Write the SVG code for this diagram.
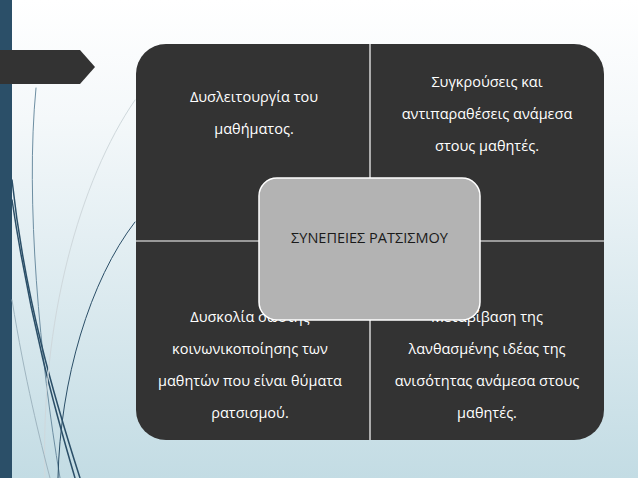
<svg xmlns="http://www.w3.org/2000/svg" width="638" height="478" viewBox="0 0 638 478">
<defs>
<linearGradient id="bg" x1="0" y1="0" x2="0" y2="1"><stop offset="0" stop-color="#ffffff"/><stop offset="0.25" stop-color="#f4f8fa"/><stop offset="1" stop-color="#c3dce4"/></linearGradient>
<style>
.q{fill:#333333;}
.t{font-family:"Open Sans","Noto Sans",sans-serif;font-size:14.5px;fill:#ffffff;text-anchor:middle;}
.c{fill:none;stroke-linecap:round;}
</style>
</defs>
<rect width="638" height="478" fill="url(#bg)"/>
<g id="decor">
<rect x="0" y="0" width="12" height="478" fill="#2b4f68"/>
<polygon points="0,50 80,50 95,67 80,84 0,84" fill="#333333"/>
<path class="c" d="M36,88 C25,200 40,360 60,478" stroke="#6d8ea2" stroke-width="1"/>
<path class="c" d="M12,180 C25,300 55,400 80,478" stroke="#2b4f68" stroke-width="1.5"/>
<path class="c" d="M12,200 C30,320 55,410 75,478" stroke="#2b4f68" stroke-width="1.5"/>
<path class="c" d="M135,222 C90,280 60,380 58,478" stroke="#2b4f68" stroke-width="1"/>
<path class="c" d="M135,100 C80,180 40,320 45,478" stroke="#cfd8dc" stroke-width="1"/>
<path class="c" d="M12,300 C25,380 40,440 50,478" stroke="#9fb5c0" stroke-width="1"/>
</g>
<g id="quadrants">
<g id="q1"><path class="q" d="M166,44 H370 V241 H136 V74 A30,30 0 0 1 166,44 Z"/>
<text class="t" x="254" y="102">Δυσλειτουργία του</text><text class="t" x="254" y="134">μαθήματος.</text></g>
<g id="q2"><path class="q" d="M370,44 H574 A30,30 0 0 1 604,74 V241 H370 Z"/>
<text class="t" x="487" y="87">Συγκρούσεις και</text><text class="t" x="487" y="119">αντιπαραθέσεις ανάμεσα</text><text class="t" x="487" y="151">στους μαθητές.</text></g>
<g id="q3"><path class="q" d="M136,241 H370 V440 H166 A30,30 0 0 1 136,410 Z"/>
<text class="t" x="250" y="322">Δυσκολία σωστής</text><text class="t" x="250" y="354">κοινωνικοποίησης των</text><text class="t" x="250" y="386">μαθητών που είναι θύματα</text><text class="t" x="250" y="418">ρατσισμού.</text></g>
<g id="q4"><path class="q" d="M370,241 H604 V410 A30,30 0 0 1 574,440 H370 Z"/>
<text class="t" x="487" y="322">Μεταβίβαση της</text><text class="t" x="487" y="354">λανθασμένης ιδέας της</text><text class="t" x="487" y="386">ανισότητας ανάμεσα στους</text><text class="t" x="487" y="418">μαθητές.</text></g>
<g id="dividers" stroke="#ffffff" stroke-width="1.2"><line x1="370" y1="44" x2="370" y2="440"/><line x1="136" y1="241" x2="604" y2="241"/></g>
</g>
<g id="center">
<rect x="259" y="178" width="221" height="142" rx="18" fill="#b3b3b3" stroke="#ffffff" stroke-width="1.5"/>
<text x="369.5" y="243" font-family="'Open Sans','Noto Sans',sans-serif" font-size="14.5" fill="#1a1a1a" text-anchor="middle">ΣΥΝΕΠΕΙΕΣ ΡΑΤΣΙΣΜΟΥ</text>
</g>
</svg>
